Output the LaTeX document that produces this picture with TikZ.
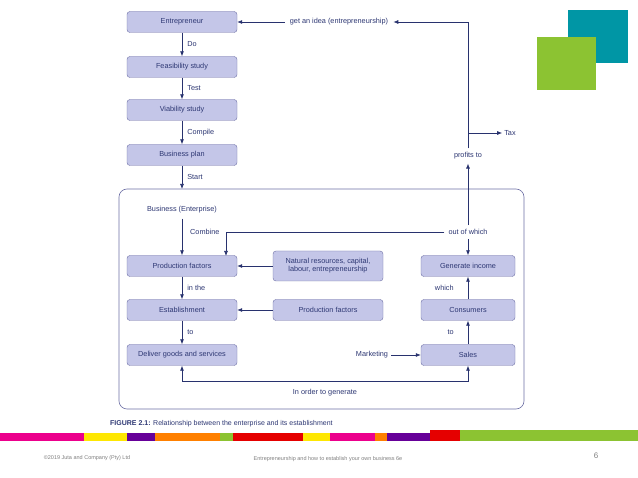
\documentclass[tikz,border=0pt]{standalone}
\usepackage{fontspec}
\setmainfont{Liberation Sans}
\usetikzlibrary{arrows.meta}
\definecolor{bx}{RGB}{196,198,232}
\definecolor{bd}{RGB}{110,112,165}
\definecolor{tx}{RGB}{45,55,115}
\definecolor{ln}{RGB}{40,50,110}
\definecolor{tealsq}{RGB}{0,150,165}
\definecolor{greensq}{RGB}{140,195,50}
\begin{document}
\begin{tikzpicture}[x=1pt,y=-1pt,
 box/.style={draw=bd,fill=bx,rounded corners=3pt,minimum width=110pt,minimum height=21pt,inner sep=1pt,font=\fontsize{7.3}{8}\selectfont,text=tx,align=center},
 lab/.style={font=\fontsize{7.3}{8}\selectfont,text=tx,inner sep=2pt},
 ar/.style={draw=ln,line width=0.7pt,-{Latex[length=5pt,width=4pt]}}]
\useasboundingbox (0,0) rectangle (638,478);
\fill[white] (0,0) rectangle (638,478);
\fill[tealsq] (568,10) rectangle (628,63);
\fill[greensq] (537,37) rectangle (596,90);
\draw[bd,line width=0.6pt,rounded corners=8pt] (119,189) rectangle (524,409);
\node[box] (ent) at (182,22) {Entrepreneur};
\node[box] (fea) at (182,67) {Feasibility study};
\node[box] (via) at (182,110) {Viability study};
\node[box] (bp) at (182,155) {Business plan};
\coordinate (st) at (182,189);
\node[lab] (be) at (182,210) {Business (Enterprise)};
\node[box] (pf) at (182,266) {Production factors};
\node[box] (est) at (182,310) {Establishment};
\node[box] (del) at (182,355) {Deliver goods and services};
\node[box,minimum height=30pt] (nr) at (328,266) {Natural resources, capital,\\labour, entrepreneurship};
\node[box] (pf2) at (328,310) {Production factors};
\node[box,minimum width=94pt] (gi) at (468,266) {Generate income};
\node[box,minimum width=94pt] (con) at (468,310) {Consumers};
\node[box,minimum width=94pt] (sal) at (468,355) {Sales};
\node[lab,inner sep=3pt] (mk) at (372,355) {Marketing};
\node[lab,inner sep=4pt] (oow) at (468,232) {out of which};
\node[lab,inner sep=4pt] (pt) at (468,156) {profits to};
\node[lab] (tax) at (510,133) {Tax};
\node[lab,inner sep=5pt] (idea) at (339,22) {get an idea (entrepreneurship)};
\node[lab] (iog) at (325,393) {In order to generate};
\node[lab,anchor=west] (cmb) at (188,232) {Combine};
\draw[ar] (ent) -- node[lab,right=3pt]{Do} (fea);
\draw[ar] (fea) -- node[lab,right=3pt]{Test} (via);
\draw[ar] (via) -- node[lab,right=3pt]{Compile} (bp);
\draw[ar] (bp) -- node[lab,right=3pt]{Start} (st);
\draw[ar] ([yshift=-3pt]be.south) -- (pf);
\draw[ar] (oow.west) -- (226,232) -- (226,256);
\draw[ar] (nr) -- (pf);
\draw[ar] (pf) -- node[lab,right=3pt]{in the} (est);
\draw[ar] (pf2) -- (est);
\draw[ar] (est) -- node[lab,right=3pt]{to} (del);
\draw[ar] (mk) -- (sal);
\draw[ar] (sal) -- node[lab,left=12pt]{to} (con);
\draw[ar] (con) -- node[lab,left=12pt]{which} (gi);
\draw[ar] (oow) -- (gi);
\draw[ar] (oow) -- (pt);
\draw[ar] (pt.north) -- (468,22) -- (idea.east);
\draw[ar] (468,133) -- (tax.west);
\draw[ar] (idea) -- (ent);
\draw[ar,{Latex[length=5pt,width=4pt]}-{Latex[length=5pt,width=4pt]}] (del.south) -- (182,381) -- (468,381) -- (sal.south);
\node[anchor=west,inner sep=0,font=\fontsize{7}{8}\selectfont,text=tx] (cap) at (110,424) {\textbf{FIGURE 2.1:} Relationship between the enterprise and its establishment};
\foreach \a/\b/\c in {0/84/magenta,84/127/yellow!90!orange,127/155/violet!80!blue,155/220/orange,220/233/greensq,233/303/red!90!black,303/330/yellow!90!orange,330/375/magenta,375/387/orange,387/430/violet!80!blue}
 \fill[\c] (\a,433) rectangle (\b,441);
\fill[red!90!black] (430,430) rectangle (460,441);
\fill[greensq] (460,430) rectangle (638,441);
\node[font=\fontsize{5.5}{6}\selectfont,text=gray] (c1) at (87,458) {©2019 Juta and Company (Pty) Ltd};
\node[font=\fontsize{5.5}{6}\selectfont,text=gray] (c2) at (328,459) {Entrepreneurship and how to establish your own business 6e};
\node[font=\fontsize{8}{9}\selectfont,text=gray] (c3) at (596,456) {6};
\end{tikzpicture}
\end{document}
